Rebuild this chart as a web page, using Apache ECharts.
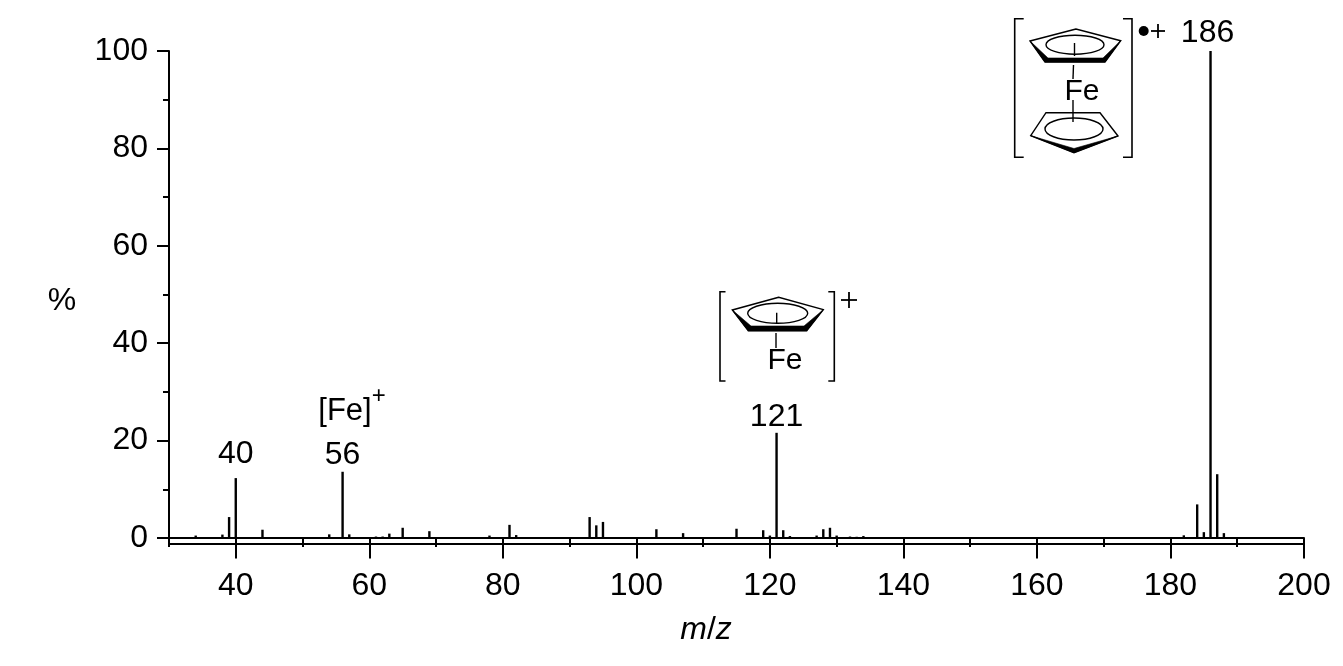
<!DOCTYPE html>
<html><head><meta charset="utf-8">
<style>html,body{margin:0;padding:0;background:#fff}#c{width:1343px;height:666px}</style>
<script src="https://cdn.jsdelivr.net/npm/echarts@6/dist/echarts.min.js"></script>
</head><body><div id="c"></div>
<script>
const mz = [34,38,39,40,44,54,56,57,61,62,63,65,66,69,77,78,81,82,92,93,94,95,102,103,107,114,115,119,120,121,122,123,127,128,129,130,132,133,134,158,182,184,185,186,187,188];
const intensity = [0.5,0.7,4.3,12.3,1.7,0.75,13.6,0.75,0.3,0.3,0.9,2.1,0.2,1.4,0.15,0.5,2.7,0.6,0.2,4.3,2.6,3.3,0.2,1.8,1,0.2,1.9,1.6,0.5,21.6,1.6,0.4,0.5,1.8,2.1,0.5,0.3,0.25,0.4,0.15,0.55,6.9,1.2,100,13.1,1];
const labelledPeaks = [40,56,121,186];
const labelGap = {40:8, 56:1, 121:0, 186:2};
const labelShift = {40:0, 56:0, 121:0, 186:-3};
const majorTicks = [40,60,80,100,120,140,160,180,200];
const FONT = '"Liberation Sans", Arial, sans-serif';
const S = 32;
const ln = (x1,y1,x2,y2,w) => ({type:'line',silent:true,shape:{x1,y1,x2,y2},style:{stroke:'#000',lineWidth:w||1.4,fill:null}});
const poly = (points,fill,w) => ({type:'polygon',silent:true,shape:{points},style:{fill,stroke:'#000',lineWidth:w||1.4,lineJoin:'miter'}});
const ell = (cx,cy,rx,ry) => ({type:'ellipse',silent:true,shape:{cx,cy,rx,ry},style:{fill:null,stroke:'#000',lineWidth:1.4}});
const txt = (x,y,text,size,extra) => ({type:'text',silent:true,x,y,style:Object.assign({text,fill:'#000',font:size+'px '+FONT,align:'center',verticalAlign:'middle'},extra||{})});
const bracket = (x,y1,y2,dx) => ({type:'polyline',silent:true,shape:{points:[[x+dx,y1],[x,y1],[x,y2],[x+dx,y2]]},style:{stroke:'#000',lineWidth:1.6,fill:null}});
const graphic = [
  // parent ion structure
  bracket(1014.7,18.7,157.3,9), bracket(1132,18.7,157.3,-9),
  poly([[1076,29],[1030,41],[1045,62],[1105,62],[1120.7,40.7]],'#fff'),
  poly([[1030,41],[1045,62],[1105,62],[1120.7,40.7],[1103,58],[1048,58]],'#000',0.6),
  ell(1075,44.7,29,9.5),
  ln(1074.5,43,1074.5,56), ln(1073.5,65,1073,79),
  txt(1082,92,'Fe',S-2),
  poly([[1046,112.7],[1100,112.7],[1118,136],[1074,152.7],[1030.7,135.7]],'#fff'),
  poly([[1030.7,135.7],[1074,152.7],[1118,136],[1074,148.5]],'#000',0.6),
  ell(1074,129,29,11),
  ln(1073,100,1073,122),
  {type:'circle',silent:true,shape:{cx:1143.7,cy:31,r:5},style:{fill:'#000'}},
  ln(1151,31,1165,31,1.8), ln(1158,24,1158,38,1.8),
  // fragment structure
  bracket(720,291.7,381,5.5), bracket(834.3,291.7,381,-6),
  poly([[778.7,297.3],[732.3,310],[748.3,330.7],[806.7,330.7],[823.3,309.7]],'#fff'),
  poly([[732.3,310],[748.3,330.7],[806.7,330.7],[823.3,309.7],[804,326],[751,326]],'#000',0.6),
  ell(777.7,313.3,30,10),
  ln(776.7,312.7,776.7,324), ln(776,333,776,348),
  txt(785,361,'Fe',S-2),
  ln(841,300,857,300,1.8), ln(849,292,849,308,1.8),
  // annotations
  {type:'text',silent:true,x:352,y:405,style:{
    text:'{a|[Fe]}{b|+}',align:'center',verticalAlign:'middle',
    rich:{a:{font:(S-1)+'px '+FONT,fill:'#000',padding:[12,0,0,0]},b:{font:'24px '+FONT,fill:'#000',padding:[0,0,18,0]}}}},
  txt(62,301,'%',S),
  {type:'text',silent:true,x:706,y:630,style:{
    text:'{i|m}{n|/}{i|z}',align:'center',verticalAlign:'middle',
    rich:{i:{font:'italic '+S+'px '+FONT,fill:'#000'},n:{font:S+'px '+FONT,fill:'#000'}}}}
];
const chart = echarts.init(document.getElementById('c'),null,{renderer:'canvas'});
const base = {type:'value',min:30,max:200,position:'bottom',splitLine:{show:false}};
chart.setOption({
  animation:false,
  backgroundColor:'#fff',
  grid:{left:169,right:39,top:51,bottom:128,containLabel:false},
  xAxis:[
    Object.assign({},base,{offset:5.5,
      axisLine:{show:true,onZero:false,lineStyle:{color:'#000',width:2}},
      axisTick:{show:true,length:15,lineStyle:{color:'#000',width:2},customValues:majorTicks},
      axisLabel:{show:true,customValues:majorTicks,color:'#000',fontFamily:FONT,fontSize:S,margin:27,hideOverlap:false}}),
    Object.assign({},base,{interval:10,offset:5.5,
      axisLine:{show:false},
      axisTick:{show:true,length:9,lineStyle:{color:'#000',width:2}},
      axisLabel:{show:false}}),
    Object.assign({},base,{offset:0,
      axisLine:{show:true,onZero:false,lineStyle:{color:'#000',width:2}},
      axisTick:{show:false},axisLabel:{show:false}})
  ],
  yAxis:{type:'value',min:0,max:100,interval:20,
    axisLine:{show:true,onZero:false,lineStyle:{color:'#000',width:2}},
    axisTick:{show:true,length:12,lineStyle:{color:'#000',width:2}},
    minorTick:{show:true,splitNumber:2,length:6,lineStyle:{color:'#000',width:2}},
    splitLine:{show:false},
    axisLabel:{color:'#000',fontFamily:FONT,fontSize:S,margin:21,padding:[3,0,0,0]}},
  series:[{
    type:'bar',xAxisIndex:0,barWidth:2.4,silent:true,
    itemStyle:{color:'#000'},
    data:mz.map((m,i)=>({
      value:[m,intensity[i]],
      label:{show:labelledPeaks.includes(m),position:'top',distance:labelGap[m],offset:[labelShift[m]||0,0],formatter:String(m),
        color:'#000',fontFamily:FONT,fontSize:S}
    }))
  }],
  graphic
});
</script></body></html>
